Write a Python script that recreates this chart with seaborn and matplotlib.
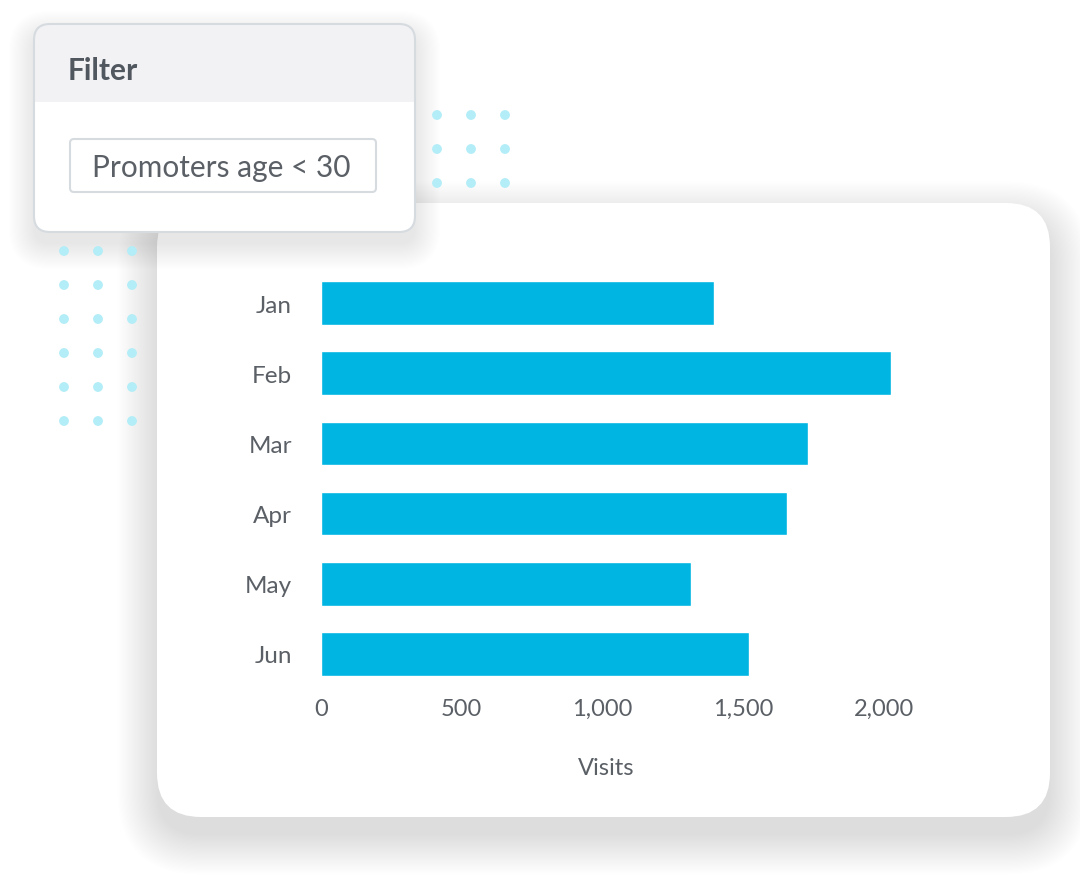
import matplotlib
matplotlib.use("Agg")
import matplotlib.pyplot as plt
from matplotlib.patches import FancyBboxPatch, Circle, Rectangle
from matplotlib.ticker import FuncFormatter
import seaborn as sns

# chart data
months = ["Jan", "Feb", "Mar", "Apr", "May", "Jun"]
visits = [1395, 2025, 1730, 1655, 1315, 1520]
x_ticks = [0, 500, 1000, 1500, 2000]
filter_title = "Filter"
filter_text = "Promoters age < 30"

BAR_COLOR = "#00b5e2"
TEXT_COLOR = "#5b6066"
DOT_COLOR = "#b3edf7"

sns.set_style("white")
plt.rcParams["font.family"] = ["Lato", "DejaVu Sans"]

W, H = 1080, 879
fig = plt.figure(figsize=(W / 100, H / 100), dpi=100)
fig.patch.set_facecolor("white")

# background layer in pixel coordinates
bg = fig.add_axes([0, 0, 1, 1])
bg.set_xlim(0, W)
bg.set_ylim(H, 0)
bg.axis("off")


def rbox(x, y, w, h, r, **kw):
    return FancyBboxPatch((x, y), w, h,
                          boxstyle=f"round,pad=0,rounding_size={r}", **kw)


def shadow(x, y, w, h, r, dy, n, step, alpha, z):
    for i in range(n):
        e = i * step
        bg.add_patch(rbox(x - e, y + dy - e, w + 2 * e, h + 2 * e, r + e,
                          facecolor="black", edgecolor="none",
                          alpha=alpha, zorder=z))


# dot grids (kept above the soft shadows)
for cx in [437, 471, 505]:
    for cy in [116, 150, 184]:
        bg.add_patch(Circle((cx, cy), 4.2, color=DOT_COLOR, zorder=4.5))
for cx in [64, 98, 132]:
    for cy in [252, 286, 320, 354, 388, 422]:
        bg.add_patch(Circle((cx, cy), 4.2, color=DOT_COLOR, zorder=4.5))

# main card
mx, my, mw, mh = 157, 204, 893, 614
shadow(mx, my, mw, mh, 44, 18, 34, 1.2, 0.0036, 2)
bg.add_patch(rbox(mx, my, mw, mh, 44, facecolor="white",
                  edgecolor="none", zorder=3))

# filter card
fx, fy, fw, fh = 34, 25, 381, 208
shadow(fx, fy, fw, fh, 16, 12, 24, 1.1, 0.0026, 4)
bg.add_patch(rbox(fx, fy, fw, fh, 16, facecolor="white",
                  edgecolor="none", zorder=5))
bg.add_patch(rbox(fx, fy, fw, 78, 16, facecolor="#f2f2f4",
                  edgecolor="none", zorder=6))
bg.add_patch(Rectangle((fx, fy + 40), fw, 38, facecolor="#f2f2f4",
                       edgecolor="none", zorder=6))
bg.add_patch(rbox(fx, fy, fw, fh, 16, facecolor="none",
                  edgecolor="#d6dbe0", linewidth=1.5, zorder=7))
bg.add_patch(rbox(70, 140, 306, 53, 4, facecolor="white",
                  edgecolor="#d6dbe0", linewidth=1.5, zorder=7))
bg.text(68, 80, filter_title, fontsize=21.5, fontweight="bold",
        color="#50575e", va="baseline", ha="left", zorder=8)
bg.text(92, 176.5, filter_text, fontsize=21.5, color=TEXT_COLOR,
        va="baseline", ha="left", zorder=8)

# bar chart
ax = fig.add_axes([321 / W, 1 - 690 / H, 570 / W, 421 / H])
ax.set_facecolor("none")
sns.barplot(x=visits, y=months, orient="h", color=BAR_COLOR,
            saturation=1, width=0.62, ax=ax)
ax.set_xlim(0, 2025)
ax.set_ylim(5.5, -0.5)
ax.set_xticks(x_ticks)
ax.xaxis.set_major_formatter(FuncFormatter(lambda v, p: f"{int(v):,}"))
ax.tick_params(axis="x", length=0, pad=6.5, labelsize=17, labelcolor=TEXT_COLOR)
ax.tick_params(axis="y", length=0, pad=21, labelsize=17.5, labelcolor=TEXT_COLOR)
for lbl in ax.get_yticklabels():
    lbl.set_y(lbl.get_position()[1])
ax.set_xlabel("Visits", fontsize=17, color=TEXT_COLOR, labelpad=27)
ax.set_ylabel("")
sns.despine(ax=ax, left=True, bottom=True)

fig.savefig("out.png", dpi=100)
